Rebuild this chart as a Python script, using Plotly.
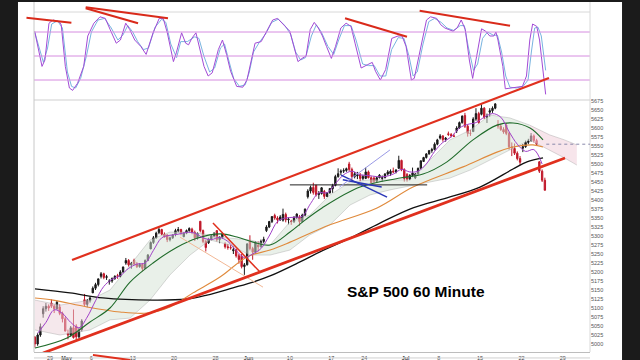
import plotly.graph_objects as go

# ---------------- axis ticks ----------------
tick_days = [2, 4, 7, 12, 17, 22, 26, 31, 36, 40, 45, 49, 54, 59, 64]
tick_labels = ["29", "<b>May</b>", "6", "13", "20", "28", "<b>Jun</b>", "10", "17", "24",
               "<b>Jul</b>", "8", "15", "22", "29"]
price_ticks = [5000, 5025, 5050, 5075, 5100, 5125, 5150, 5175, 5200, 5225, 5250, 5275, 5300,
               5325, 5350, 5375, 5400, 5425, 5450, 5475, 5500, 5525, 5550, 5575, 5600, 5625,
               5650, 5675]

# ---------------- price bars (3 bars per trading day, Apr 25 .. Jul 24) ----------------
bar_open = [
    5019, 5000, 5025, 5084, 5098, 5105, 5114, 5105, 5098, 5103, 5085, 5070,
    5029, 5025, 5045, 5050, 5020, 5040, 5123, 5110, 5120, 5142, 5155, 5165,
    5188, 5195, 5185, 5173, 5175, 5182, 5190, 5188, 5200, 5225, 5232, 5220,
    5233, 5222, 5215, 5221, 5210, 5232, 5264, 5282, 5295, 5310, 5318, 5305,
    5303, 5290, 5295, 5305, 5315, 5318, 5298, 5308, 5315, 5319, 5310, 5295,
    5341, 5315, 5285, 5281, 5292, 5300, 5315, 5290, 5296, 5278, 5270, 5268,
    5259, 5262, 5245, 5244, 5215, 5220, 5287, 5265, 5255, 5275, 5270, 5285,
    5315, 5325, 5340, 5357, 5350, 5345, 5344, 5360, 5345, 5341, 5340, 5352,
    5353, 5340, 5358, 5409, 5425, 5435, 5441, 5415, 5418, 5424, 5410, 5420,
    5431, 5440, 5465, 5477, 5480, 5482, 5500, 5485, 5465, 5467, 5470, 5460,
    5460, 5478, 5462, 5461, 5452, 5462, 5460, 5462, 5472, 5473, 5480, 5478,
    5488, 5510, 5485, 5471, 5458, 5468, 5461, 5472, 5488, 5507, 5518, 5528,
    5537, 5540, 5555, 5572, 5578, 5568, 5584, 5582, 5578, 5592, 5600, 5615,
    5635, 5605, 5585, 5590, 5625, 5640, 5638, 5655, 5630, 5644, 5648, 5655,
    5610, 5605, 5596, 5608, 5585, 5548, 5543, 5530, 5515, 5544, 5548, 5560,
    5565, 5578, 5565, 5506, 5480, 5455]
bar_high = [
    5022, 5030, 5057, 5105, 5114, 5110, 5124, 5110, 5120, 5110, 5090, 5075,
    5040, 5050, 5096, 5055, 5045, 5069, 5139, 5125, 5132, 5160, 5170, 5181,
    5200, 5198, 5192, 5180, 5185, 5191, 5195, 5205, 5215, 5239, 5236, 5228,
    5237, 5228, 5225, 5225, 5235, 5250, 5285, 5300, 5312, 5325, 5320, 5310,
    5305, 5298, 5305, 5320, 5325, 5320, 5310, 5318, 5324, 5323, 5315, 5310,
    5341, 5318, 5290, 5295, 5305, 5311, 5315, 5300, 5310, 5283, 5278, 5275,
    5271, 5265, 5250, 5250, 5225, 5280, 5302, 5270, 5285, 5285, 5290, 5298,
    5330, 5342, 5354, 5362, 5355, 5358, 5376, 5365, 5352, 5345, 5355, 5363,
    5358, 5362, 5376, 5430, 5440, 5448, 5441, 5425, 5436, 5428, 5422, 5432,
    5445, 5470, 5488, 5485, 5488, 5490, 5506, 5490, 5478, 5478, 5475, 5470,
    5490, 5482, 5466, 5465, 5465, 5472, 5468, 5475, 5483, 5485, 5490, 5486,
    5523, 5512, 5488, 5475, 5472, 5490, 5475, 5490, 5509, 5520, 5530, 5539,
    5545, 5560, 5570, 5583, 5580, 5575, 5590, 5586, 5584, 5605, 5618, 5635,
    5642, 5610, 5595, 5630, 5655, 5645, 5666, 5658, 5640, 5655, 5660, 5669,
    5622, 5612, 5602, 5614, 5590, 5560, 5557, 5535, 5522, 5555, 5565, 5570,
    5586, 5582, 5570, 5508, 5485, 5462]
bar_low = [
    4990, 4995, 5020, 5073, 5090, 5092, 5100, 5086, 5095, 5080, 5060, 5035,
    5013, 5020, 5015, 5011, 5015, 5035, 5105, 5102, 5115, 5142, 5150, 5160,
    5182, 5180, 5178, 5165, 5170, 5178, 5181, 5185, 5198, 5220, 5215, 5209,
    5218, 5211, 5212, 5202, 5208, 5230, 5264, 5278, 5292, 5305, 5302, 5296,
    5283, 5285, 5292, 5299, 5310, 5302, 5297, 5305, 5312, 5305, 5286, 5290,
    5310, 5280, 5257, 5278, 5288, 5296, 5285, 5280, 5292, 5265, 5262, 5262,
    5250, 5240, 5223, 5210, 5192, 5218, 5260, 5234, 5250, 5257, 5268, 5280,
    5311, 5322, 5336, 5345, 5335, 5342, 5340, 5338, 5332, 5331, 5336, 5348,
    5328, 5338, 5355, 5404, 5418, 5415, 5410, 5403, 5415, 5403, 5408, 5418,
    5420, 5438, 5462, 5469, 5475, 5478, 5480, 5456, 5460, 5458, 5452, 5455,
    5458, 5460, 5447, 5446, 5450, 5460, 5451, 5460, 5468, 5467, 5475, 5474,
    5486, 5480, 5451, 5451, 5455, 5465, 5458, 5470, 5485, 5507, 5515, 5526,
    5531, 5538, 5552, 5568, 5562, 5562, 5578, 5574, 5575, 5586, 5598, 5612,
    5600, 5576, 5578, 5590, 5620, 5612, 5635, 5625, 5614, 5631, 5642, 5652,
    5598, 5592, 5584, 5580, 5540, 5522, 5525, 5510, 5497, 5533, 5545, 5555,
    5562, 5560, 5551, 5475, 5450, 5427]
bar_close = [
    5000, 5025, 5048, 5098, 5105, 5100, 5105, 5098, 5116, 5085, 5070, 5036,
    5025, 5045, 5018, 5020, 5040, 5064, 5110, 5120, 5128, 5155, 5165, 5181,
    5195, 5185, 5187, 5175, 5182, 5188, 5188, 5200, 5214, 5232, 5220, 5223,
    5222, 5215, 5221, 5210, 5232, 5247, 5282, 5295, 5308, 5318, 5305, 5297,
    5290, 5295, 5303, 5315, 5318, 5308, 5308, 5315, 5321, 5310, 5295, 5307,
    5315, 5285, 5268, 5292, 5300, 5305, 5290, 5296, 5306, 5270, 5268, 5267,
    5262, 5245, 5235, 5215, 5220, 5278, 5265, 5255, 5283, 5270, 5285, 5291,
    5325, 5340, 5354, 5350, 5345, 5353, 5360, 5345, 5347, 5340, 5352, 5361,
    5340, 5358, 5375, 5425, 5435, 5421, 5415, 5418, 5434, 5410, 5420, 5432,
    5440, 5465, 5473, 5480, 5482, 5487, 5485, 5465, 5473, 5470, 5460, 5465,
    5478, 5462, 5448, 5452, 5462, 5469, 5462, 5472, 5478, 5480, 5478, 5483,
    5510, 5485, 5460, 5458, 5468, 5475, 5472, 5488, 5509, 5518, 5528, 5537,
    5540, 5555, 5567, 5578, 5568, 5572, 5582, 5578, 5577, 5600, 5615, 5633,
    5605, 5585, 5585, 5625, 5640, 5615, 5655, 5630, 5631, 5648, 5655, 5667,
    5605, 5596, 5589, 5585, 5548, 5545, 5530, 5515, 5505, 5548, 5560, 5564,
    5578, 5565, 5555, 5480, 5455, 5427]

# ---------------- moving averages ----------------
ma_black_days = [0.18, 4.41, 8.40, 14.45, 18.56, 20.98, 24.12, 26.54, 28.60, 32.22, 34.64,
                 38.27, 41.90, 45.89, 50.00, 53.99, 57.98, 59.67, 61.61]
ma_black = [5153, 5142, 5128, 5122, 5125, 5136, 5156, 5172, 5189, 5228, 5256,
            5294, 5336, 5378, 5406, 5436, 5486, 5506, 5517]
ma_green_days = [0.18, 4.05, 6.83, 9.25, 11.67, 14.45, 17.35, 19.77, 22.55, 24.61, 26.54,
                 28.60, 31.02, 32.83, 34.89, 39.48, 44.32, 47.10, 50.00, 53.14, 56.04,
                 57.98, 60.04, 61.61]
ma_green = [4989, 5017, 5061, 5100, 5172, 5225, 5269, 5294, 5306, 5297, 5283,
            5275, 5311, 5344, 5378, 5436, 5461, 5472, 5506, 5567, 5608,
            5614, 5600, 5567]
ma_orange_days = [0.18, 2.36, 6.47, 10.46, 13.72, 16.51, 19.29, 22.55, 25.82, 28.60, 31.02,
                  35.85, 41.54, 45.89, 51.94, 56.04, 57.98, 60.40, 61.61]
ma_orange = [5128, 5122, 5103, 5089, 5086, 5103, 5142, 5186, 5242, 5261, 5283,
             5331, 5378, 5436, 5492, 5533, 5547, 5553, 5547]
# purple line hugging price (one value per trading day)
base_line = [5030, 5060, 5095, 5085, 5060, 5045, 5075, 5120, 5160, 5180, 5190, 5210, 5222,
             5225, 5260, 5295, 5302, 5305, 5310, 5308, 5295, 5290, 5296, 5285, 5260, 5240,
             5250, 5265, 5300, 5340, 5350, 5352, 5355, 5390, 5420, 5420, 5445, 5470, 5480,
             5470, 5468, 5465, 5465, 5472, 5485, 5478, 5480, 5500, 5535, 5560, 5575, 5600,
             5610, 5615, 5630, 5640, 5630, 5590, 5555, 5535, 5540, 5500]

# ---------------- cloud ----------------
cloud_days = [0.18, 3.2, 6.83, 9.25, 11.67, 14.09, 16.5, 18.92, 21.34, 23.76, 26.18, 28.6,
              31.0, 33.4, 35.85, 38.27, 40.69, 43.1, 45.5, 47.94, 50.36, 52.78, 55.2, 57.6,
              60.0, 62.4, 64.2, 65.7]
cloud_top = [5122, 5108, 5122, 5150, 5219, 5289, 5311, 5311, 5303, 5294, 5289, 5275,
             5339, 5358, 5414, 5450, 5456, 5456, 5456, 5511, 5567, 5594, 5636, 5628,
             5608, 5581, 5567, 5553]
cloud_bot = [5039, 5025, 5039, 5067, 5072, 5122, 5192, 5247, 5289, 5275, 5247, 5247,
             5261, 5303, 5331, 5386, 5414, 5428, 5439, 5450, 5461, 5483, 5511, 5539,
             5567, 5539, 5517, 5497]

# ---------------- stochastic ----------------
stoch_k_days = [0.14, 0.88, 1.03, 1.38, 1.87, 2.37, 3.11, 3.35, 3.85, 4.34, 4.73, 5.33, 6.07,
                6.56, 7.30, 8.04, 8.68, 9.27, 10.01, 10.51, 11.15, 11.64, 12.24, 12.97, 13.62,
                14.46, 15.20, 15.69, 16.18, 16.92, 17.27, 17.91, 18.40, 18.75, 19.14, 19.64,
                20.13, 20.62, 21.12, 21.61, 22.35, 22.85, 23.34, 23.83, 24.57, 25.31, 25.81,
                26.30, 26.79, 27.53, 28.27, 28.92, 29.51, 30.25, 30.99, 31.48, 31.98, 32.47,
                32.96, 33.46, 33.95, 34.44, 34.94, 35.43, 36.02, 36.52, 37.16, 37.80, 38.39,
                38.88, 39.62, 40.36, 40.96, 41.35, 41.94, 42.58, 43.32, 44.07, 44.56, 45.05,
                45.69, 46.04, 46.78, 47.52, 48.01, 48.75, 49.25, 49.74, 50.23, 50.73, 51.22,
                51.72, 52.21, 52.70, 53.10, 53.69, 54.18, 54.68, 55.17, 55.66, 55.91, 56.16,
                56.75, 57.05, 57.64, 58.38, 59.12, 59.61, 60.01, 60.35, 60.85, 61.19, 61.59,
                61.93]
stoch_k = [81, 45, 37, 45, 91, 95, 93, 89, 37, 10, 7, 16, 37,
           75, 91, 99, 97, 83, 66, 70, 91, 83, 70, 62, 52,
           79, 97, 97, 79, 43, 54, 79, 66, 64, 72, 79,
           58, 37, 25, 29, 58, 70, 52, 31, 12, 11, 20,
           45, 66, 68, 83, 95, 97, 89, 81, 62, 43, 47,
           50, 83, 92, 85, 75, 62, 47, 62, 85, 91, 87,
           66, 35, 39, 42, 31, 20, 33, 72, 75, 75, 62,
           20, 22, 58, 95, 99, 97, 89, 85, 83, 81, 85,
           95, 83, 45, 22, 54, 84, 81, 75, 75, 80, 70,
           37, 9, 10, 11, 12, 25, 70, 90, 87, 70, 37,
           2]
stoch_d_days = [0.14, 1.2, 1.7, 2.2, 2.9, 3.5, 4.1, 4.6, 5.1, 5.7, 6.4, 7.0, 7.8, 8.6, 9.4,
                10.2, 10.8, 11.4, 12.0, 12.6, 13.3, 13.9, 14.7, 15.5, 16.0, 16.6, 17.3, 17.8,
                18.6, 19.5, 20.0, 20.6, 21.3, 21.9, 22.6, 23.1, 23.6, 24.2, 24.9, 25.6, 26.1,
                26.6, 27.3, 28.1, 28.8, 29.6, 30.4, 31.1, 31.7, 32.3, 32.9, 33.6, 34.2, 34.8,
                35.6, 36.3, 36.9, 37.6, 38.4, 39.0, 39.8, 40.5, 41.2, 41.9, 42.6, 43.3, 44.1,
                44.8, 45.4, 45.9, 46.4, 47.1, 47.8, 48.5, 49.3, 50.0, 50.8, 51.6, 52.1, 52.6,
                53.2, 53.7, 54.3, 54.9, 55.6, 56.1, 56.6, 57.1, 57.6, 58.4, 59.2, 59.8, 60.2,
                60.6, 61.0, 61.4, 61.93]
stoch_d = [80, 42, 60, 90, 94, 85, 30, 12, 10, 22, 50, 80, 95, 97, 85,
           70, 76, 88, 80, 68, 58, 60, 86, 96, 92, 65, 48, 68,
           68, 74, 72, 50, 30, 35, 60, 65, 45, 22, 12, 14, 30,
           55, 67, 78, 92, 96, 88, 77, 55, 45, 48, 75, 89, 80,
           62, 52, 70, 88, 88, 70, 40, 38, 38, 25, 25, 58, 73,
           72, 50, 25, 30, 65, 93, 97, 92, 85, 82, 88, 88, 60,
           32, 40, 72, 80, 76, 76, 55, 25, 11, 10, 12, 20, 55,
           85, 86, 75, 32]
stoch_levels = [80, 50, 20]

# ---------------- hand-drawn lines (day, value) ----------------
channel_upper = (4.66, 5233.3, 62.33, 5738.9)
channel_lower = (1.15, 4975.0, 64.27, 5516.7)
red_short = (21.70, 5336, 27.39, 5200)
tan_line = (17.71, 5297, 27.75, 5158)
black_level = (31.0, 5442, 47.6, 5442)
blue_lines = [(37.2, 5469, 42.75, 5408), (37.4, 5456, 42.1, 5436)]
lavender_line = (37.0, 5436, 43.1, 5539)
dotted_level = 5555
stoch_trend = [(-0.85, 97.9, 4.58, 91.6), (6.31, 109.6, 12.64, 90.9), (6.31, 110.9, 16.26, 97.1),
               (37.67, 97.1, 45.16, 74.1), (46.69, 106.6, 57.62, 87.9)]

# ================= figure =================
XR = [0.06, 67.29]
YR = [4977.8, 5950]
BARS_PER_DAY = 3

fig = go.Figure()

# cloud segments: (start index, end index, colour)
segments = [(0, 3, "rgba(236,210,218,0.5)"), (2, 25, "rgba(212,226,212,0.5)"),
            (24, len(cloud_days), "rgba(240,208,218,0.55)")]
for a, b, col in segments:
    fig.add_trace(go.Scatter(x=cloud_days[a:b], y=cloud_bot[a:b], mode="lines",
                             line=dict(color="rgba(150,150,150,0.5)", width=0.7),
                             hoverinfo="skip", showlegend=False))
    fig.add_trace(go.Scatter(x=cloud_days[a:b], y=cloud_top[a:b], mode="lines", fill="tonexty",
                             fillcolor=col, line=dict(color="rgba(150,150,150,0.5)", width=0.7),
                             hoverinfo="skip", showlegend=False))

fig.add_trace(go.Scatter(x=ma_black_days, y=ma_black, mode="lines", line=dict(color="#111", width=1.3, shape="spline"),
                         hoverinfo="skip", showlegend=False))
fig.add_trace(go.Scatter(x=ma_orange_days, y=ma_orange, mode="lines", line=dict(color="#e08a3c", width=1.1, shape="spline"),
                         hoverinfo="skip", showlegend=False))
fig.add_trace(go.Scatter(x=ma_green_days, y=ma_green, mode="lines", line=dict(color="#1f6b2a", width=1.1, shape="spline"),
                         hoverinfo="skip", showlegend=False))

day_centres = [d + 0.5 for d in range(len(base_line))]
fig.add_trace(go.Scatter(x=day_centres, y=base_line, mode="lines", line=dict(color="#a040c8", width=1, shape="spline"),
                         hoverinfo="skip", showlegend=False))

bar_x = [i // BARS_PER_DAY + (i % BARS_PER_DAY + 0.5) / BARS_PER_DAY for i in range(len(bar_close))]
fig.add_trace(go.Candlestick(x=bar_x, open=bar_open, high=bar_high, low=bar_low, close=bar_close,
                             increasing=dict(line=dict(color="#1a1a1a", width=1), fillcolor="#1a1a1a"),
                             decreasing=dict(line=dict(color="#c0182a", width=1), fillcolor="#c0182a"),
                             whiskerwidth=0, hoverinfo="skip", showlegend=False))

# stochastic panel
fig.add_trace(go.Scatter(x=stoch_d_days, y=stoch_d, mode="lines", yaxis="y2",
                         line=dict(color="#78b4e0", width=1), hoverinfo="skip", showlegend=False))
fig.add_trace(go.Scatter(x=stoch_k_days, y=stoch_k, mode="lines", yaxis="y2",
                         line=dict(color="#a24ad6", width=1), hoverinfo="skip", showlegend=False))


def xpaper(d):
    return (d - XR[0]) / (XR[1] - XR[0])


shapes = []
# white page behind the charts
shapes.append(dict(type="rect", xref="paper", yref="paper", x0=-0.0288, x1=1.0576, y0=-0.03, y1=1.0,
                   fillcolor="white", line=dict(width=0), layer="below"))
# panel frame
shapes.append(dict(type="line", xref="paper", yref="y2", x0=0, x1=1, y0=105, y1=105,
                   line=dict(color="#d8d8d8", width=1)))
for lv in stoch_levels:
    shapes.append(dict(type="line", xref="paper", yref="y2", x0=0, x1=1, y0=lv, y1=lv,
                       line=dict(color="#d68ce0", width=1)))
shapes.append(dict(type="line", xref="paper", yref="paper", x0=0, x1=1, y0=0.72, y1=0.72,
                   line=dict(color="#cfcfcf", width=1)))
shapes.append(dict(type="line", xref="paper", yref="paper", x0=0, x1=0, y0=0, y1=1,
                   line=dict(color="#c8c8c8", width=1)))
shapes.append(dict(type="line", xref="paper", yref="paper", x0=1, x1=1, y0=0, y1=1,
                   line=dict(color="#d8d8d8", width=1)))
shapes.append(dict(type="line", xref="paper", yref="paper", x0=0, x1=1, y0=-0.017, y1=-0.017,
                   line=dict(color="#d0d0d0", width=1)))


def seg(t, color, width, dash="solid"):
    return dict(type="line", xref="x", yref="y", x0=t[0], y0=t[1], x1=t[2], y1=t[3],
                line=dict(color=color, width=width, dash=dash))


shapes.append(seg(tan_line, "#f2b896", 1))
shapes.append(seg(red_short, "#e0301e", 1.5))
shapes.append(seg(black_level, "#222", 1))
for bl in blue_lines:
    shapes.append(seg(bl, "#2a36b8", 1.5))
shapes.append(seg(lavender_line, "#9a9ae6", 1))
shapes.append(seg(channel_upper, "#e0301e", 2.2))
shapes.append(seg(channel_lower, "#e0301e", 2.8))
shapes.append(dict(type="line", xref="x", yref="y", x0=62, x1=XR[1], y0=dotted_level, y1=dotted_level,
                   line=dict(color="#8888aa", width=1, dash="dot")))
for t in stoch_trend:
    shapes.append(dict(type="line", xref="paper", yref="y2", x0=xpaper(t[0]), y0=t[1],
                       x1=xpaper(t[2]), y1=t[3], line=dict(color="#d92a1a", width=2)))
shapes.append(dict(type="line", xref="paper", yref="paper", x0=0.106, y0=-0.0086, x1=0.173, y1=-0.0229,
                   line=dict(color="#e0301e", width=2)))

fig.update_layout(
    width=640, height=360,
    margin=dict(l=34, r=50, t=2, b=8),
    paper_bgcolor="#1b1b1b", plot_bgcolor="white",
    showlegend=False,
    shapes=shapes,
    font=dict(family="Liberation Sans, Arial, sans-serif"),
    xaxis=dict(range=XR, tickvals=tick_days, ticktext=tick_labels, anchor="y",
               tickfont=dict(size=5.5, color="#444"), showgrid=False, zeroline=False,
               showline=True, linecolor="#bdbdbd", linewidth=1, ticks="",
               rangeslider=dict(visible=False), automargin=False),
    yaxis=dict(domain=[0, 1], range=YR, side="right", tickvals=price_ticks,
               ticktext=[str(v) for v in price_ticks], tickfont=dict(size=5.5, color="#555"),
               showgrid=False, zeroline=False, showline=False, ticks="", automargin=False),
    yaxis2=dict(domain=[0.72, 1], range=[-5, 117.5], anchor="x", showticklabels=False,
                showgrid=False, zeroline=False, showline=False),
    annotations=[dict(text="<b>S&P 500 60 Minute</b>", x=0.687, y=0.174, xref="paper", yref="paper",
                      xanchor="center", yanchor="middle", showarrow=False,
                      font=dict(size=15.5, color="black", family="Liberation Sans, Arial, sans-serif"))],
)

fig.write_html("out.html", config={"displayModeBar": False, "staticPlot": True},
               post_script="document.body.style.margin='0px';document.body.style.background='#1b1b1b';")
